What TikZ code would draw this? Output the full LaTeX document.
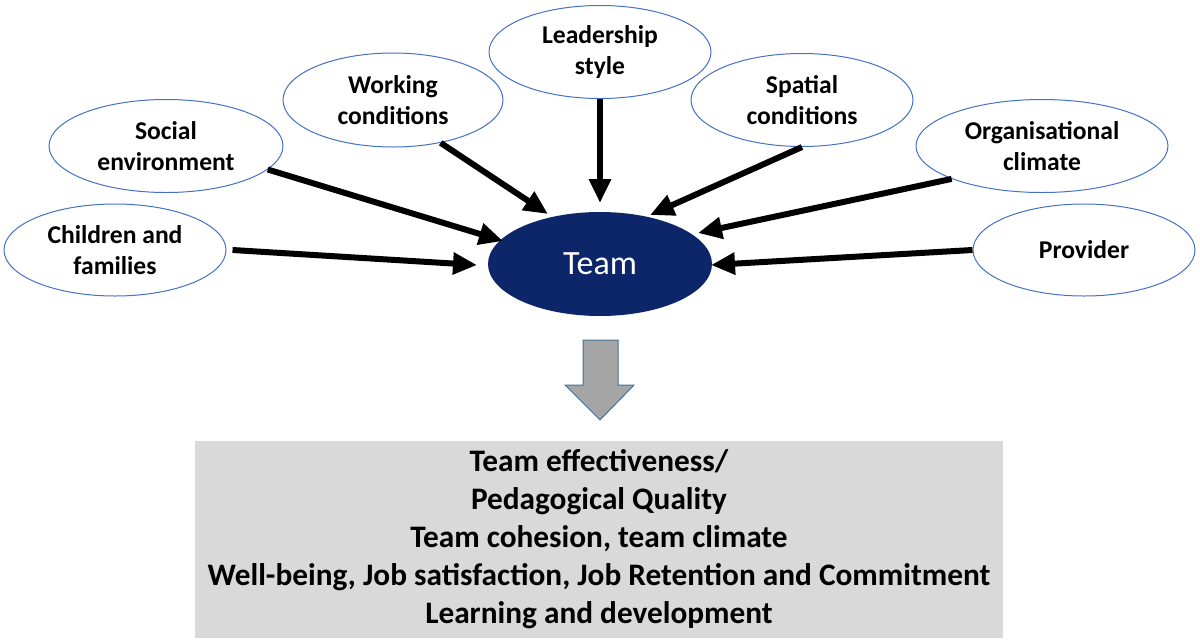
\documentclass[tikz,border=0pt]{standalone}
\usepackage{fontspec}
\setmainfont{Carlito}
\usetikzlibrary{shapes.geometric,arrows.meta}
\definecolor{ellblue}{HTML}{4472C4}
\definecolor{teamblue}{RGB}{12,38,105}
\definecolor{boxgray}{HTML}{D9D9D9}
\definecolor{arrgray}{HTML}{A5A5A5}
\definecolor{arredge}{HTML}{41719C}
\tikzset{
  factor/.style={ellipse,draw=ellblue,line width=1pt,fill=white,inner sep=0pt,
    align=center,font=\fontsize{25.6}{31.5}\selectfont\bfseries},
  infl/.style={line width=6pt,-{Triangle[length=24pt,width=21pt]}},
}
\begin{document}
\begin{tikzpicture}[x=1pt,y=-1pt]
\useasboundingbox (0,0) rectangle (1200,641);
% factors
\node[factor,minimum width=222pt,minimum height=92pt] (child) at (115,250) {Children and\\families};
\node[factor,minimum width=234pt,minimum height=93pt] (social) at (166,146) {Social\\environment};
\node[factor,minimum width=220pt,minimum height=94pt] (working) at (393,100) {Working\\conditions};
\node[factor,minimum width=222pt,minimum height=93pt] (lead) at (600,52) {Leadership\\style};
\node[factor,minimum width=222pt,minimum height=93pt] (spatial) at (802,100) {Spatial\\conditions};
\node[factor,minimum width=252pt,minimum height=93pt] (org) at (1042,146) {Organisational\\climate};
\node[factor,minimum width=222pt,minimum height=92pt] (prov) at (1084,250) {Provider};
% team
\node[ellipse,fill=teamblue,inner sep=0pt,minimum width=224pt,minimum height=104pt,
  text=white,font=\fontsize{34}{40}\selectfont] (team) at (600,264) {Team};
% arrow tips
\coordinate (t1) at (477,265);
\coordinate (t2) at (503,241);
\coordinate (t3) at (548,214);
\coordinate (t4) at (600,203);
\coordinate (t5) at (650,215);
\coordinate (t6) at (698,233);
\coordinate (t7) at (711,265);
\draw[infl] ([xshift=6pt]child.east) -- (t1);
\draw[infl] (social.-13) -- (t2);
\draw[infl] (working.-42) -- (t3);
\draw[infl] (lead.south) -- (t4);
\draw[infl] (spatial.south) -- (t5);
\draw[infl] (org.200) -- (t6);
\draw[infl] (prov.west) -- (t7);
% outcome box
\node[fill=boxgray,minimum width=808pt,minimum height=197pt,inner sep=0pt,align=center,
  font=\fontsize{31.3}{38}\selectfont\bfseries] (out) at (599,539)
  {Team effectiveness/\\Pedagogical Quality\\Team cohesion, team climate\\
   Well-being, Job satisfaction, Job Retention and Commitment\\Learning and development};
% down arrow
\draw[fill=arrgray,draw=arredge,line width=1pt]
  (583,340) -- (618,340) -- (618,385) -- (634,385) -- (600,420) -- (565,385) -- (583,385) -- cycle;
\end{tikzpicture}
\end{document}
